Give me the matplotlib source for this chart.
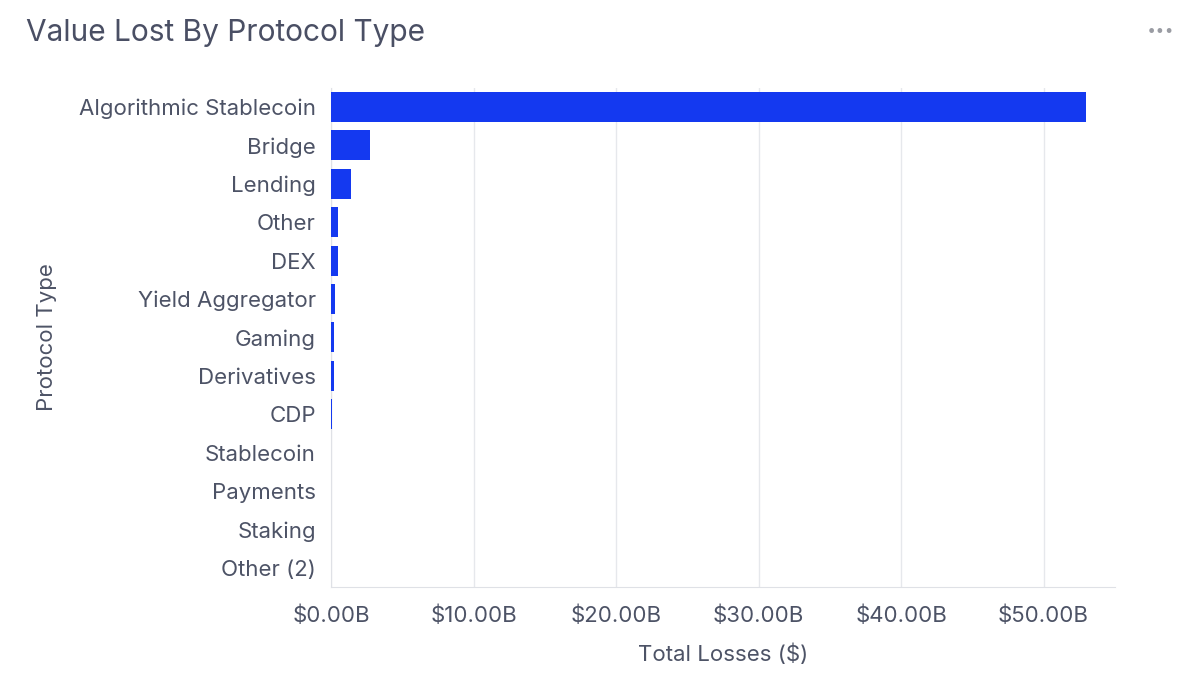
import matplotlib
matplotlib.use("Agg")
import matplotlib.pyplot as plt
from matplotlib.ticker import FuncFormatter

plt.rcParams["font.family"] = ["Inter", "DejaVu Sans"]

protocols = ["Algorithmic Stablecoin", "Bridge", "Lending", "Other", "DEX",
             "Yield Aggregator", "Gaming", "Derivatives", "CDP", "Stablecoin",
             "Payments", "Staking", "Other (2)"]
losses_b = [53.0, 2.7, 1.4, 0.5, 0.45, 0.3, 0.18, 0.17, 0.06, 0.02, 0.008, 0.004, 0.002]

TEXT = "#4d5366"
BAR = "#1439f0"

fig = plt.figure(figsize=(12, 6.85), dpi=100)
ax = fig.add_axes([0.276, 0.143, 0.653, 0.729])

y = list(range(len(protocols)))
ax.barh(y, losses_b, height=0.78, color=BAR, zorder=3)
ax.set_ylim(len(protocols) - 0.5, -0.5)
ax.set_xlim(0, 55)
ax.set_yticks(y)
ax.set_yticklabels(protocols)
ax.set_xticks([0, 10, 20, 30, 40, 50])
ax.xaxis.set_major_formatter(FuncFormatter(lambda v, p: f"${v:.2f}B"))

ax.grid(axis="x", color="#e6e8ec", lw=1, zorder=0)
for s in ["top", "right"]:
    ax.spines[s].set_visible(False)
for s in ["left", "bottom"]:
    ax.spines[s].set_color("#dfe1e6")
ax.tick_params(axis="both", length=0, labelsize=16, labelcolor=TEXT)
ax.tick_params(axis="y", pad=11)
ax.tick_params(axis="x", pad=13)

ax.set_xlabel("Total Losses ($)", fontsize=16, color=TEXT, labelpad=13)
ax.set_ylabel("Protocol Type", fontsize=16, color=TEXT, labelpad=16)

fig.text(0.022, 0.952, "Value Lost By Protocol Type", fontsize=21.5,
         color="#4a4f64", va="center", ha="left")
fig.text(0.967, 0.952, "···", fontsize=20, color="#9a9ca3", va="center", ha="center",
         fontweight="bold")

fig.savefig("out.png", dpi=100)
